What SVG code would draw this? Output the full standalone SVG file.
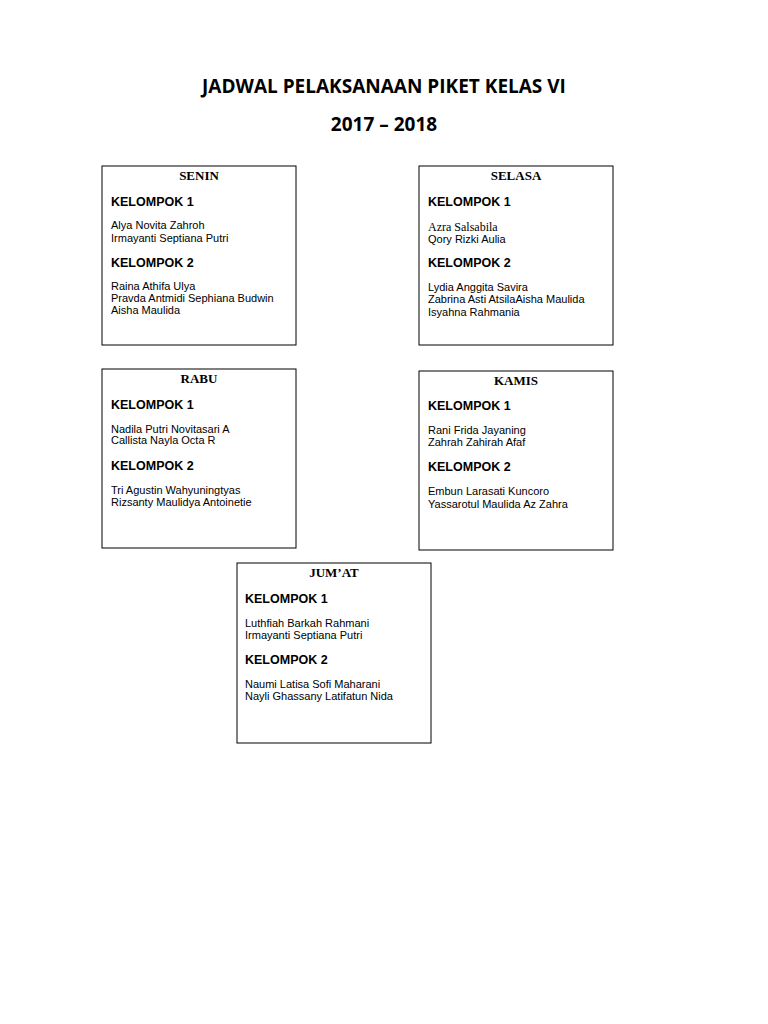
<svg xmlns="http://www.w3.org/2000/svg" width="768" height="1024" viewBox="0 0 768 1024">
<style>
.t{font-family:"Open Sans","Liberation Sans",sans-serif;font-weight:bold;font-size:19px;text-anchor:middle;fill:#000}
.b{fill:#fff;stroke:#000;stroke-width:1}
.h{font-family:"Liberation Serif",serif;font-weight:bold;font-size:13px;text-anchor:middle}
.k{font-family:"Liberation Sans",sans-serif;font-weight:bold;font-size:12.5px}
.n{font-family:"Liberation Sans",sans-serif;font-size:11px}
.s{font-family:"Liberation Serif",serif;font-size:12px}
</style>
<rect width="768" height="1024" fill="#fff"/>
<text class="t" x="384" y="93">JADWAL PELAKSANAAN PIKET KELAS VI</text>
<text class="t" x="384" y="131">2017 – 2018</text>
<g id="senin" transform="translate(102,166)">
<rect class="b" width="194" height="179"/>
<text class="h" x="97" y="14">SENIN</text>
<text class="k" x="9" y="40">KELOMPOK 1</text>
<text class="n" x="9" y="63">Alya Novita Zahroh</text>
<text class="n" x="9" y="76">Irmayanti Septiana Putri</text>
<text class="k" x="9" y="101">KELOMPOK 2</text>
<text class="n" x="9" y="124">Raina Athifa Ulya</text>
<text class="n" x="9" y="136">Pravda Antmidi Sephiana Budwin</text>
<text class="n" x="9" y="148">Aisha Maulida</text>
</g>
<g id="selasa" transform="translate(419,166)">
<rect class="b" width="194" height="179"/>
<text class="h" x="97" y="14">SELASA</text>
<text class="k" x="9" y="40">KELOMPOK 1</text>
<text class="s" x="9" y="65">Azra Salsabila</text>
<text class="n" x="9" y="77">Qory Rizki Aulia</text>
<text class="k" x="9" y="101">KELOMPOK 2</text>
<text class="n" x="9" y="125">Lydia Anggita Savira</text>
<text class="n" x="9" y="137">Zabrina Asti AtsilaAisha Maulida</text>
<text class="n" x="9" y="150">Isyahna Rahmania</text>
</g>
<g id="rabu" transform="translate(102,369)">
<rect class="b" width="194" height="179"/>
<text class="h" x="97" y="14">RABU</text>
<text class="k" x="9" y="40">KELOMPOK 1</text>
<text class="n" x="9" y="64">Nadila Putri Novitasari A</text>
<text class="n" x="9" y="75">Callista Nayla Octa R</text>
<text class="k" x="9" y="101">KELOMPOK 2</text>
<text class="n" x="9" y="125">Tri Agustin Wahyuningtyas</text>
<text class="n" x="9" y="137">Rizsanty Maulidya Antoinetie</text>
</g>
<g id="kamis" transform="translate(419,371)">
<rect class="b" width="194" height="179"/>
<text class="h" x="97" y="14">KAMIS</text>
<text class="k" x="9" y="39">KELOMPOK 1</text>
<text class="n" x="9" y="63">Rani Frida Jayaning</text>
<text class="n" x="9" y="75">Zahrah Zahirah Afaf</text>
<text class="k" x="9" y="100">KELOMPOK 2</text>
<text class="n" x="9" y="124">Embun Larasati Kuncoro</text>
<text class="n" x="9" y="137">Yassarotul Maulida Az Zahra</text>
</g>
<g id="jumat" transform="translate(237,563)">
<rect class="b" width="194" height="180"/>
<text class="h" x="97" y="14">JUM’AT</text>
<text class="k" x="8" y="40">KELOMPOK 1</text>
<text class="n" x="8" y="64">Luthfiah Barkah Rahmani</text>
<text class="n" x="8" y="76">Irmayanti Septiana Putri</text>
<text class="k" x="8" y="101">KELOMPOK 2</text>
<text class="n" x="8" y="125">Naumi Latisa Sofi Maharani</text>
<text class="n" x="8" y="137">Nayli Ghassany Latifatun Nida</text>
</g>
<g id="connectors"/>
</svg>
